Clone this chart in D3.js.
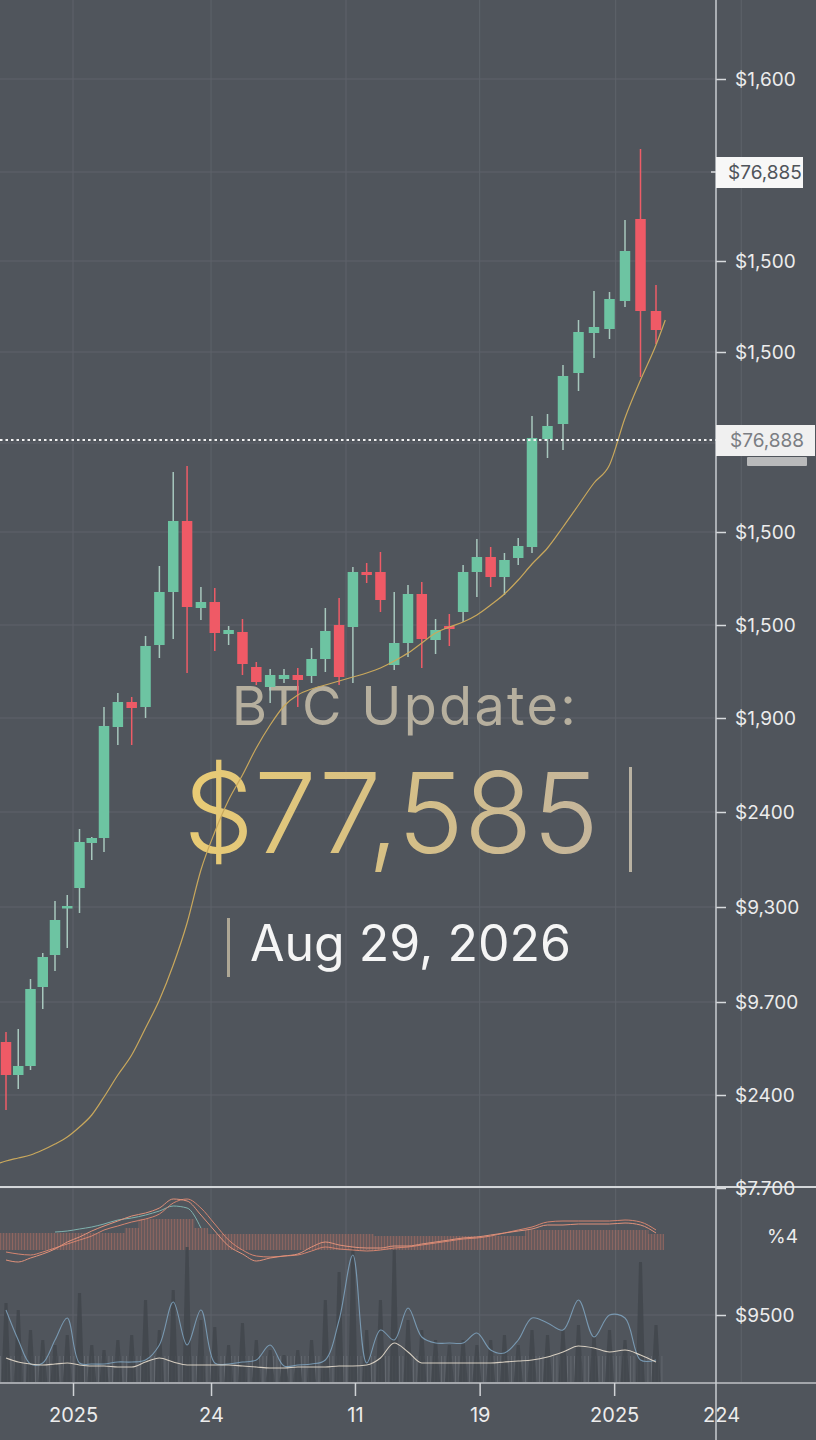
<!DOCTYPE html>
<html><head><meta charset="utf-8">
<script src="https://cdn.jsdelivr.net/npm/d3@7"></script>
<style>html,body{margin:0;padding:0;background:#50555c;}svg{display:block;}</style>
</head><body>
<svg id="c" width="816" height="1440"></svg>
<script>
// ---------- DATA ----------
const opens  = [75082,74983,75010,75247,75343,75487,75544,75679,75694,76027,76102,76087,76273,76432,76645,76384,76402,76306,76312,76207,76147,76171,76183,76180,76231,76333,76327,76492,76492,76213,76279,76426,76288,76330,76372,76492,76537,76477,76534,76567,76891,76936,77089,77209,77221,77305,77551,77275];
const highs  = [75112,75121,75271,75349,75505,75523,75721,75697,76087,76129,76117,76300,76510,76792,76810,76447,76444,76330,76351,76222,76201,76201,76204,76264,76384,76414,76507,76519,76552,76432,76453,76462,76351,76366,76513,76591,76567,76549,76594,76960,76966,77113,77248,77335,77332,77548,77761,77353];
const lows   = [74878,74941,74998,75181,75295,75364,75469,75628,75652,75973,75973,76054,76234,76291,76189,76348,76255,76273,76183,76153,76099,76159,76087,76159,76192,76153,76159,76459,76372,76198,76237,76204,76246,76270,76342,76417,76447,76423,76513,76549,76834,76858,77035,77134,77191,77287,77077,77176];
const closes = [74983,75010,75241,75337,75448,75490,75682,75694,76030,76102,76084,76270,76432,76645,76387,76402,76309,76318,76216,76162,76183,76183,76168,76231,76315,76177,76492,76483,76408,76279,76426,76291,76318,76321,76492,76537,76477,76528,76570,76894,76930,77080,77212,77227,77311,77455,77275,77218];

// moving average (index, value)
const maIndex = [-0.5,0,1,2,3,4,5,6,7,8,9,10,11,12,13,14,15,16,17,18,19,20,21,22,23,24,25,26,27,28,29,30,31,32,33,34,35,36,37,38,39,40,41,42,43,44,45,46,47,47.6];
const maValues = [74719,74725,74734,74743,74758,74776,74797,74827,74863,74917,74983,75043,75124,75208,75313,75439,75598,75712,75808,75883,75964,76033,76090,76123,76141,76153,76165,76177,76189,76204,76225,76249,76279,76309,76327,76342,76363,76393,76426,76468,76516,76564,76627,76693,76759,76813,76954,77068,77173,77248];

// right axis ticks (price values) and their printed labels
const yTickValues = [74644,74923,75202,75487,75772,76054,76333,76612,76879,77152,77425,77692,77971];
const yTickLabels = ["$7.700","$2400","$9.700","$9,300","$2400","$1,900","$1,500","$1,500","","$1,500","$1,500","","$1,600"];

// price tags
const tagValues = [77692, 76888];
const tagLabels = ["$76,885", "$76,888"];
const currentPrice = 76888;

// bottom axis
const xTickIdx = [5.47, 15.73, 26.15, 35.2, 44.3, 51.2];
const xTickLabels = ["2025","24","11","19","2025","224"];
const gridIdx = [5.47, 15.73, 25.5, 35.2, 44.4, 52.5];

// lower indicator panel
const oscFast = [122,120,124,128,133,140,145,151,156,161,166,169,174,183,181,167,151,136,128,121,124,126,128,135,140,137,135,134,134,136,136,138,140,142,144,145,147,149,151,153,157,157,158,158,158,159,157,149];
const oscSlow = [130,128,127,130,134,138,142,146,152,156,160,163,168,179,183,174,158,142,132,126,125,126,127,131,135,133,132,131,132,134,135,137,139,141,143,144,146,149,152,155,160,161,161,161,161,162,160,152];
const oscSignal = [null,null,null,null,150,151,153,155,158,162,164,167,171,176,174,154,null,null,null,null,null,null,null,null,null,null,null,null,null,null,null,null,null,null,null,null,null,null,null,null,null,null,null,null,null,null,null,null];
const bandTop = [149,149,149,149,149,149,149,149,149,149,154,163,163,163,163,154,148,148,148,148,148,148,148,148,148,148,148,148,146,146,146,146,146,146,146,146,146,146,146,152,152,152,152,152,152,152,152,148];
const bandBase = 132;
const volume = [79,72,52,42,37,47,89,37,32,42,47,82,52,92,135,62,55,37,59,42,32,27,32,42,82,110,134,52,82,132,62,52,42,37,42,37,42,47,37,52,47,52,57,47,52,42,120,57];
const blueLine = [72,42,18,19,42,64,19,18,18,20,20,22,37,80,37,72,19,18,20,22,37,16,17,18,22,62,127,19,52,42,74,45,39,39,39,49,32,29,42,64,59,52,82,45,67,64,22,22];
const creamLine = [24,20,18,17,18,19,17,16,16,15,15,20,24,20,17,17,17,17,16,15,14,14,15,15,15,16,16,17,24,39,30,19,19,19,19,19,19,20,21,22,25,30,36,34,30,32,27,20];
const lowTickValues = [146, 67];
const lowTickLabels = ["%4", "$9500"];

// ---------- CHART ----------
const W = 816, H = 1440, axisX = 716;
const svg = d3.select("#c");
const x = d3.scaleLinear().domain([0,8,21,39,47]).range([6,104,284,532,656]);
const y = d3.scaleLinear().domain([74644,77971]).range([1188,79]);
const yLow = d3.scaleLinear().domain([0,194]).range([1382,1188]);
const idx = d3.range(opens.length);

const defs = svg.append("defs");
const sp = defs.append("pattern").attr("id","salmon").attr("patternUnits","userSpaceOnUse").attr("width",3).attr("height",20);
sp.append("rect").attr("width",3).attr("height",20).attr("fill","rgba(185,108,92,0.22)");
sp.append("rect").attr("width",1).attr("height",20).attr("fill","rgba(205,122,104,0.32)");
const hp = defs.append("pattern").attr("id","hatch").attr("patternUnits","userSpaceOnUse").attr("width",3.5).attr("height",20);
hp.append("rect").attr("width",0.8).attr("height",20).attr("fill","rgba(190,195,200,0.2)");
const g = defs.append("linearGradient").attr("id","gold").attr("gradientUnits","userSpaceOnUse")
  .attr("x1",185).attr("x2",600).attr("y1",0).attr("y2",0);
g.append("stop").attr("offset","0").attr("stop-color","#e9cb74");
g.append("stop").attr("offset","0.45").attr("stop-color","#d8c184");
g.append("stop").attr("offset","1").attr("stop-color","#c4b59c");

svg.append("rect").attr("width",W).attr("height",H).attr("fill","#50555c");

// grid
svg.append("g").selectAll("line").data(gridIdx).join("line")
  .attr("x1",d=>x(d)).attr("x2",d=>x(d)).attr("y1",0).attr("y2",1382)
  .attr("stroke","#5e636a").attr("stroke-width",1);
svg.append("g").selectAll("line").data(yTickValues).join("line")
  .attr("x1",0).attr("x2",axisX).attr("y1",d=>y(d)).attr("y2",d=>y(d))
  .attr("stroke","#5e636a").attr("stroke-width",1);
svg.append("line").attr("x1",0).attr("x2",axisX).attr("y1",yLow(67)).attr("y2",yLow(67))
  .attr("stroke","#5e636a").attr("stroke-width",1);

// headline text
const tg = svg.append("g").attr("font-family","Inter, 'Noto Sans', sans-serif");
tg.append("text").attr("x",405).attr("y",725).attr("text-anchor","middle")
  .attr("font-size",54).attr("font-weight",400).attr("letter-spacing",2.3).attr("fill","#b6af9e").text("BTC Update:");
tg.append("text").attr("x",391).attr("y",853).attr("text-anchor","middle")
  .attr("font-size",112).attr("font-weight",350).attr("fill","url(#gold)").text("$77,585");
tg.append("rect").attr("x",629).attr("y",767).attr("width",3).attr("height",105).attr("fill","#b9b2a2");
tg.append("rect").attr("x",227).attr("y",918).attr("width",3).attr("height",59).attr("fill","#aea795");
tg.append("text").attr("x",250).attr("y",961).attr("text-anchor","start")
  .attr("font-size",50).attr("font-weight",400).attr("fill","#f5f5f5").text("Aug 29, 2026");

// lower panel: salmon band
svg.append("g").selectAll("rect").data(idx).join("rect")
  .attr("x",i=>x(i-0.5)).attr("width",i=>x(i+0.5)-x(i-0.5)+0.3)
  .attr("y",i=>yLow(bandTop[i])).attr("height",i=>yLow(bandBase)-yLow(bandTop[i]))
  .attr("fill","url(#salmon)");
// hatch at bottom
svg.append("rect").attr("x",x(-0.5)).attr("width",x(47.5)-x(-0.5)).attr("y",yLow(26)).attr("height",yLow(0)-yLow(26))
  .attr("fill","url(#hatch)");
// volume spikes
svg.append("g").selectAll("path").data(idx).join("path")
  .attr("d",i=>{const cx=x(i), b=yLow(0), t=yLow(volume[i]);
    return `M${cx-4.5},${b}L${cx-1.5},${t}L${cx+1.5},${t}L${cx+4.5},${b}Z`;})
  .attr("fill","#40454b").attr("opacity",0.8);
// indicator lines
const lowLine = arr => d3.line().defined(i=>arr[i]!=null).x(i=>x(i)).y(i=>yLow(arr[i])).curve(d3.curveMonotoneX)(idx);
svg.append("path").attr("d",d3.line().x(i=>x(i)).y(i=>yLow(blueLine[i])).curve(d3.curveCatmullRom.alpha(0.5))(idx))
  .attr("fill","none").attr("stroke","#82a9c6").attr("stroke-width",1.1).attr("opacity",0.8);
svg.append("path").attr("d",lowLine(creamLine)).attr("fill","none").attr("stroke","#e4dacb").attr("stroke-width",1.1).attr("opacity",0.9);
svg.append("path").attr("d",lowLine(oscSignal)).attr("fill","none").attr("stroke","#7fb2ae").attr("stroke-width",1);
svg.append("path").attr("d",lowLine(oscSlow)).attr("fill","none").attr("stroke","#d58570").attr("stroke-width",1);
svg.append("path").attr("d",lowLine(oscFast)).attr("fill","none").attr("stroke","#e0917a").attr("stroke-width",1);

// candles
const up = i => closes[i] >= opens[i];
const cg = svg.append("g");
cg.selectAll("line").data(idx).join("line")
  .attr("x1",i=>x(i)).attr("x2",i=>x(i)).attr("y1",i=>y(highs[i])).attr("y2",i=>y(lows[i]))
  .attr("stroke",i=>up(i)?"#a7c7bd":"#ee5c67").attr("stroke-width",1.5);
cg.selectAll("rect").data(idx).join("rect")
  .attr("x",i=>x(i)-5.25).attr("width",10.5)
  .attr("y",i=>y(Math.max(opens[i],closes[i])))
  .attr("height",i=>Math.max(2.5,Math.abs(y(opens[i])-y(closes[i]))))
  .attr("fill",i=>up(i)?"#6dc4a2":"#ef5a66");

// moving average
svg.append("path")
  .attr("d",d3.line().x((d,k)=>x(maIndex[k])).y(d=>y(d)).curve(d3.curveMonotoneX)(maValues))
  .attr("fill","none").attr("stroke","#c9a85c").attr("stroke-width",1.2);

// current price dotted line
svg.append("line").attr("x1",0).attr("x2",axisX).attr("y1",y(currentPrice)).attr("y2",y(currentPrice))
  .attr("stroke","#f2f2f2").attr("stroke-width",2).attr("stroke-dasharray","2.5,3");

// divider lines
svg.append("line").attr("x1",0).attr("x2",W).attr("y1",1187).attr("y2",1187).attr("stroke","#d3d6d9").attr("stroke-width",2);
svg.append("line").attr("x1",0).attr("x2",W).attr("y1",1383).attr("y2",1383).attr("stroke","#bfc2c6").attr("stroke-width",1.5);

// right axis
const ya = svg.append("g").attr("transform",`translate(${axisX},0)`)
  .call(d3.axisRight(y).tickValues(yTickValues).tickFormat((d,i)=>yTickLabels[i]).tickSize(10).tickPadding(9));
ya.select(".domain").remove();
ya.selectAll(".tick").filter((d,i)=>yTickLabels[i]==="").select("line").remove();
ya.selectAll(".tick line").attr("stroke","#d8dbde").attr("stroke-width",1.5);
ya.selectAll(".tick text").attr("fill","#ececec").attr("font-size",19).attr("font-family","Inter, sans-serif");

const la = svg.append("g").attr("transform",`translate(${axisX},0)`)
  .call(d3.axisRight(yLow).tickValues(lowTickValues).tickFormat((d,i)=>lowTickLabels[i]).tickSize(10).tickPadding(9));
la.select(".domain").remove();
la.selectAll(".tick line").attr("stroke","#d8dbde").attr("stroke-width",1.5);
la.selectAll(".tick").filter((d,i)=>i===0).select("line").remove();
la.selectAll(".tick").filter((d,i)=>i===0).select("text").attr("x",82).attr("text-anchor","end");
la.selectAll(".tick text").attr("fill","#ececec").attr("font-size",19).attr("font-family","Inter, sans-serif");

// bottom axis
const xa = svg.append("g").attr("transform","translate(0,1383)")
  .call(d3.axisBottom(x).tickValues(xTickIdx).tickFormat((d,i)=>xTickLabels[i]).tickSize(13).tickPadding(12));
xa.select(".domain").remove();
xa.selectAll(".tick line").attr("stroke","#d0d3d6").attr("stroke-width",1.5);
xa.selectAll(".tick").filter((d,i)=>i===xTickIdx.length-1).select("line").remove();
xa.selectAll(".tick text").attr("fill","#ececec").attr("font-size",20).attr("font-family","Inter, sans-serif");

// axis lines (right)
svg.append("line").attr("x1",axisX).attr("x2",axisX).attr("y1",0).attr("y2",H).attr("stroke","#c9ccd0").attr("stroke-width",1.5);

// price tags
const tags = svg.append("g").attr("font-family","Inter, sans-serif").attr("font-size",19);
const tagW = [87, 99];
tags.selectAll("rect.tag").data(tagValues).join("rect").attr("class","tag")
  .attr("x",axisX).attr("y",d=>y(d)-15).attr("width",(d,i)=>tagW[i]).attr("height",31)
  .attr("fill",(d,i)=>i===0?"#f7f7f7":"#f0f0f0");
tags.selectAll("text").data(tagValues).join("text")
  .attr("x",(d,i)=>i===0?728:730).attr("y",d=>y(d)).attr("dy","0.35em")
  .attr("fill",(d,i)=>i===0?"#4f545a":"#7b7e83").text((d,i)=>tagLabels[i]);
tags.append("line").attr("x1",axisX-5).attr("x2",axisX).attr("y1",y(tagValues[0])).attr("y2",y(tagValues[0]))
  .attr("stroke","#d8dbde").attr("stroke-width",1.5);
tags.append("rect").attr("x",747).attr("y",y(currentPrice)+17).attr("width",60).attr("height",9).attr("rx",1).attr("fill","#b9babb");
</script>
</body></html>
